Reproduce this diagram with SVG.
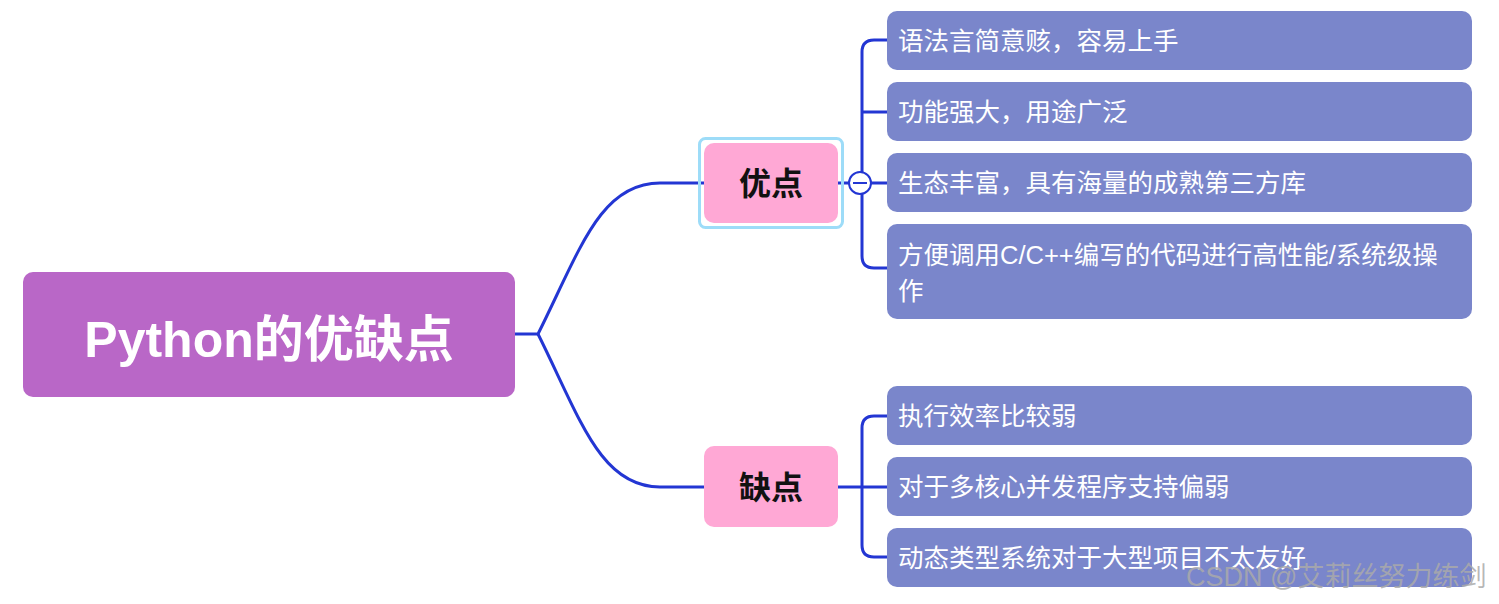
<svg xmlns="http://www.w3.org/2000/svg" width="1499" height="604" viewBox="0 0 1499 604">
<style>
.c{fill:#7a86cb}
.t{font-family:"Liberation Sans","Noto Sans CJK SC",sans-serif;font-size:25.5px;fill:#fff}
.m{font-family:"Liberation Sans","Noto Sans CJK SC",sans-serif;font-size:32px;font-weight:bold;fill:#111;text-anchor:middle}
.l{fill:none;stroke:#2336d3;stroke-width:3}
</style>
<rect width="1499" height="604" fill="#fff"/>
<g id="connectors">
<path class="l" d="M515 334 H538 C580 250 600 183 660 183 H704"/>
<path class="l" d="M538 334 C580 418 600 487 660 487 H704"/>
<path class="l" d="M838 183 H887"/>
<path class="l" d="M887 40 H874 Q862 40 862 52 V256 Q862 268 874 268 H887 M862 112 H887"/>
<path class="l" d="M838 487 H887"/>
<path class="l" d="M887 416 H874 Q862 416 862 428 V545 Q862 557 874 557 H887"/>
</g>
<g id="root"><rect x="23" y="272" width="492" height="125" rx="10" fill="#b967c7"/>
<text x="269" y="357" text-anchor="middle" font-family="Liberation Sans,Noto Sans CJK SC,sans-serif" font-size="50" font-weight="bold" fill="#fff">Python的优缺点</text></g>
<g id="pro"><rect x="699.5" y="138.5" width="143" height="89" rx="6" fill="none" stroke="#9ddcf8" stroke-width="3"/>
<rect x="704" y="143" width="134" height="80" rx="10" fill="#ffa8d5"/><text class="m" x="771" y="195">优点</text>
<circle cx="860" cy="183" r="11" fill="#fff" stroke="#2336d3" stroke-width="2"/><path d="M853 183 H867" stroke="#2336d3" stroke-width="2"/></g>
<g id="con"><rect x="704" y="446" width="134" height="81" rx="10" fill="#ffa8d5"/><text class="m" x="771" y="499">缺点</text></g>
<g id="p1"><rect class="c" x="887" y="11" width="585" height="59" rx="10"/><text class="t" x="898" y="50">语法言简意赅，容易上手</text></g>
<g id="p2"><rect class="c" x="887" y="82" width="585" height="59" rx="10"/><text class="t" x="898" y="121">功能强大，用途广泛</text></g>
<g id="p3"><rect class="c" x="887" y="153" width="585" height="59" rx="10"/><text class="t" x="898" y="192">生态丰富，具有海量的成熟第三方库</text></g>
<g id="p4"><rect class="c" x="887" y="224" width="585" height="95" rx="10"/><text class="t" x="898" y="264">方便调用C/C++编写的代码进行高性能/系统级操</text><text class="t" x="898" y="300">作</text></g>
<g id="c1"><rect class="c" x="887" y="386" width="585" height="59" rx="10"/><text class="t" x="898" y="425">执行效率比较弱</text></g>
<g id="c2"><rect class="c" x="887" y="457" width="585" height="59" rx="10"/><text class="t" x="898" y="496">对于多核心并发程序支持偏弱</text></g>
<g id="c3"><rect class="c" x="887" y="528" width="585" height="59" rx="10"/><text class="t" x="898" y="567">动态类型系统对于大型项目不太友好</text></g>
<text x="1186" y="586" font-family="Liberation Sans,Noto Sans CJK SC,sans-serif" font-size="27" fill="#aaa" fill-opacity="0.85">CSDN @艾莉丝努力练剑</text>
</svg>
